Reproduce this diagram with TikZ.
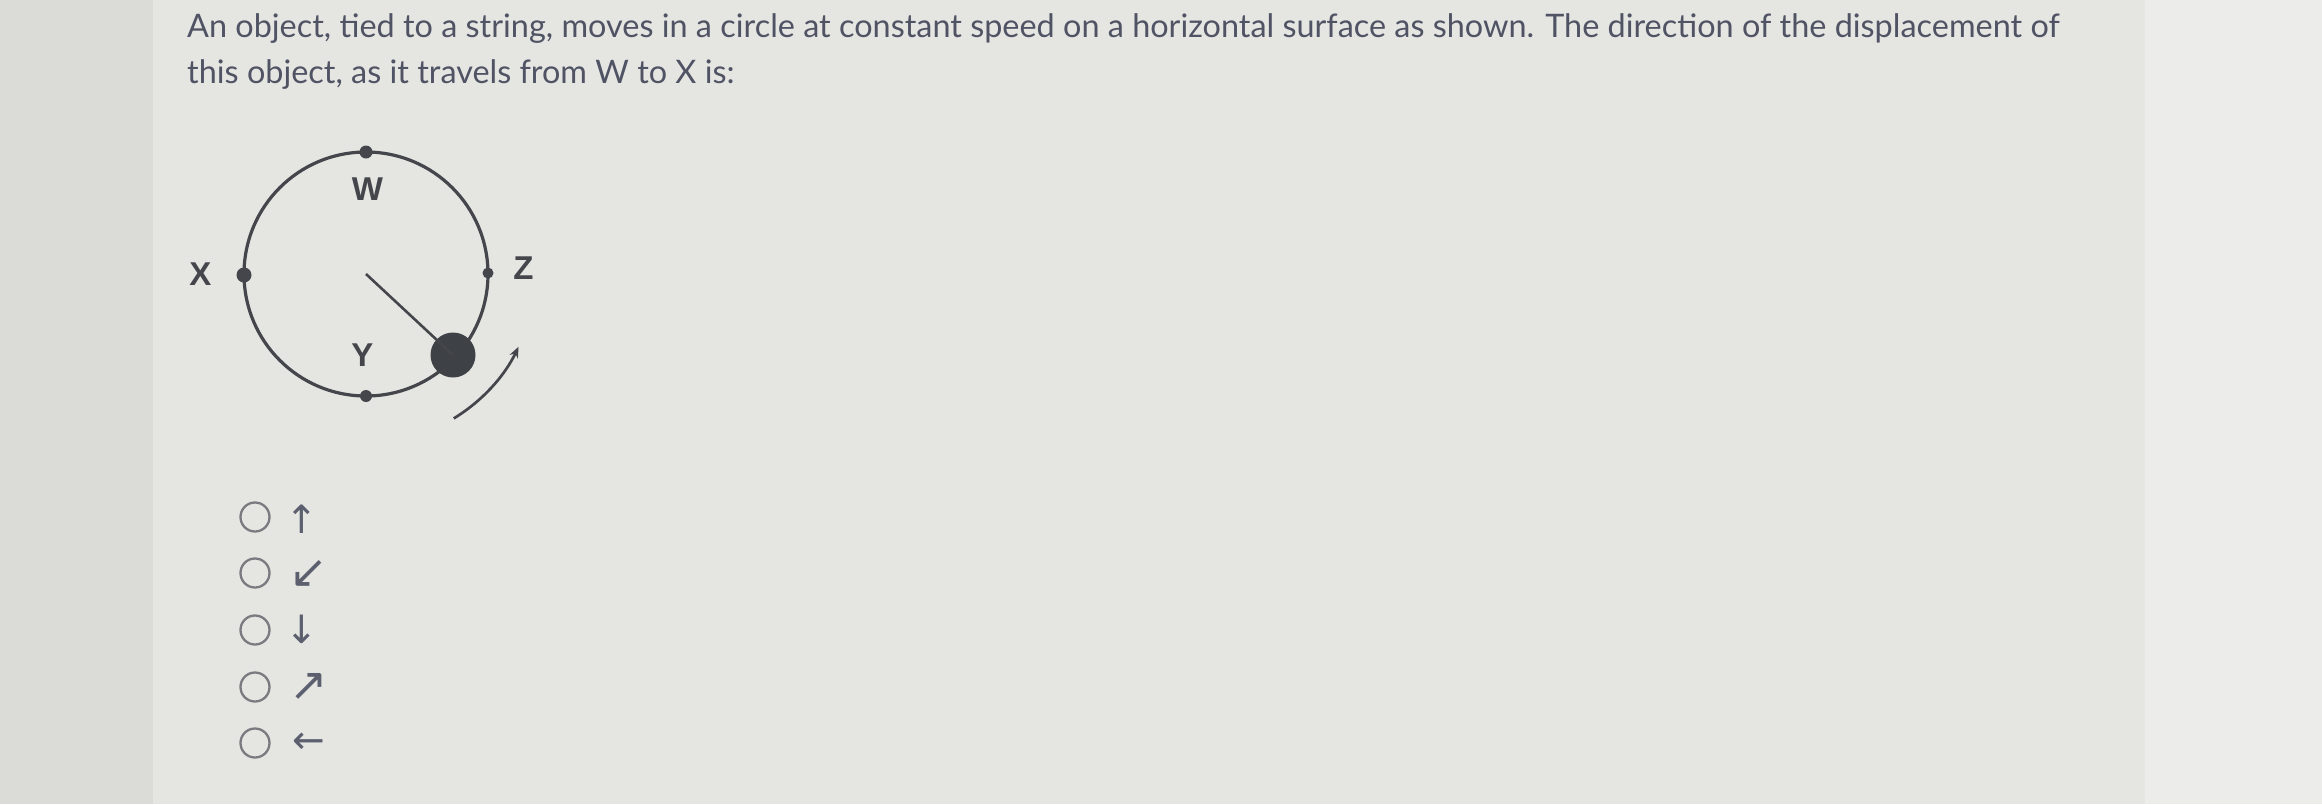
\documentclass[tikz,border=0pt]{standalone}
\usepackage{fontspec}
\setmainfont{Lato}
\newfontfamily\labelfont{Liberation Sans}
\newfontfamily\arrowfont{DejaVu Sans}
\usetikzlibrary{arrows.meta,calc}
\definecolor{bgleft}{RGB}{219,219,215}
\definecolor{bgmain}{RGB}{229,229,226}
\definecolor{bgright}{RGB}{236,236,234}
\definecolor{qtext}{RGB}{80,83,100}
\definecolor{ink}{RGB}{68,70,76}
\definecolor{ballc}{RGB}{62,65,70}
\definecolor{radio}{RGB}{122,122,128}
\definecolor{arrc}{RGB}{92,95,110}
\tikzset{
  qline/.style={anchor=base west, inner sep=0pt, text=qtext, font=\fontsize{32.4}{38}\selectfont},
  ptdot/.style={circle, fill=ink, inner sep=0pt},
  plabel/.style={text=ink, inner sep=0pt, font=\labelfont\bfseries\fontsize{33}{37}\selectfont},
  radiobtn/.style={circle, draw=radio, line width=2.3pt, minimum size=29pt, inner sep=0pt},
  choice/.style={text=arrc, inner sep=0pt, font=\arrowfont\fontsize{39}{44}\selectfont},
  dchoice/.style={text=arrc, inner sep=0pt, font=\arrowfont\fontsize{46}{50}\selectfont}
}
\begin{document}
\begin{tikzpicture}[x=1pt,y=-1pt]
\useasboundingbox (0,0) rectangle (2322,804);
\fill[bgmain] (0,0) rectangle (2322,804);
\fill[bgleft] (0,0) rectangle (153,804);
\fill[bgright] (2145,0) rectangle (2322,804);

% question text
\node[qline] (q1) at (187,37) {An object, tied to a string, moves in a circle at constant speed on a horizontal surface as shown. The direction of the displacement of};
\node[qline] (q2) at (187,83) {this object, as it travels from W to X is:};

% circle diagram
\coordinate (o) at (366,274);
\draw[ink, line width=3.2pt] (o) circle[radius=122];
\node[ptdot, minimum size=13pt] (W) at (366,152) {};
\node[ptdot, minimum size=15pt] (X) at (244,275) {};
\node[ptdot, minimum size=11pt] (Z) at (488,273) {};
\node[ptdot, minimum size=12pt] (Y) at (366,396) {};
\node[plabel] (lW) at (367.5,189.5) {W};
\node[plabel] (lX) at (200.5,274) {X};
\node[plabel] (lZ) at (523.5,268) {Z};
\node[plabel] (lY) at (362.5,355) {Y};
\node[circle, fill=ballc, minimum size=45pt, inner sep=0pt] (ball) at (453,355) {};
\draw[ink, line width=2.6pt] (o) -- (ball.center);
\coordinate (arcstart) at ($(o)+(58.7:169)$);
\draw[ink, line width=2.7pt, -{Stealth[length=11pt,width=9pt]}] (arcstart) arc[start angle=58.7, end angle=25.5, radius=169];

% answer choices
\node[radiobtn] (r1) at (255,517) {};
\node[radiobtn] (r2) at (255,573) {};
\node[radiobtn] (r3) at (255,630) {};
\node[radiobtn] (r4) at (255,687) {};
\node[radiobtn] (r5) at (255,743) {};
\node[choice] (a1) at (302,519) {↑};
\node[dchoice] (a2) at (309,574) {↙};
\node[choice] (a3) at (302,629) {↓};
\node[dchoice] (a4) at (309,687) {↗};
\node[choice] (a5) at (309,743) {←};
\end{tikzpicture}
\end{document}
